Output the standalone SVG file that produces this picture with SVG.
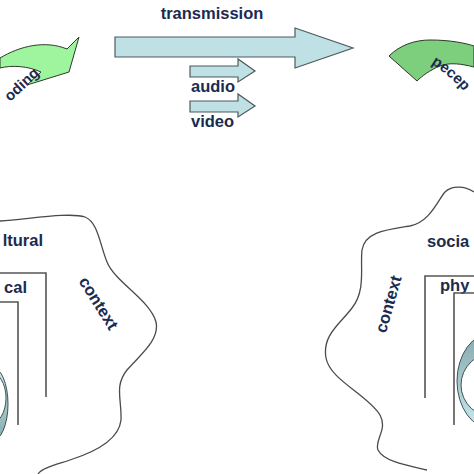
<svg xmlns="http://www.w3.org/2000/svg" width="474" height="474" viewBox="0 0 474 474">
<defs>
<style>
.lbl{font-family:"Liberation Sans",Arial,sans-serif;font-weight:bold;font-size:16.5px;fill:#1b2b4f}
.sm{font-size:15px}
.blue{fill:#bfe0e4;stroke:#4d5a5c;stroke-width:1.2}
.line{fill:none;stroke:#4a4a4a;stroke-width:1.3}
.frame{fill:none;stroke:#555;stroke-width:1.6}
.ring{stroke:#2f3f45;stroke-width:0.9}
</style>
<linearGradient id="gR" x1="0" y1="0" x2="0" y2="1">
<stop offset="0" stop-color="#86a9ae"/><stop offset="1" stop-color="#c8e9ed"/>
</linearGradient>
<linearGradient id="gL" x1="0" y1="0" x2="0" y2="1">
<stop offset="0" stop-color="#c8ecee"/><stop offset="1" stop-color="#86a9ad"/>
</linearGradient>
<path id="pPer" d="M431,64 Q455,78 478,108"/>
</defs>
<rect width="474" height="474" fill="#fff"/>

<g id="connectors">
<path id="transmission-arrow" class="blue" d="M115,37 H295 V28 L353,48 L295,68 V57 H115 Z"/>
<path id="audio-arrow" class="blue" d="M190,66 H238 V59 L255,71 L238,82 V77 H190 Z"/>
<path id="video-arrow" class="blue" d="M190,101 H238 V94 L255,106 L238,117 V112 H190 Z"/>
</g>

<g id="labels-transmission">
<text class="lbl" x="212" y="19" text-anchor="middle">transmission</text>
<text class="lbl" x="191" y="92">audio</text>
<text class="lbl" x="191" y="127">video</text>
</g>

<g id="encoding">
<path d="M0,58 C20,46 45,40 67,49 L79,37 L69,72 L27,85 L41,72 C28,66 12,65 0,68 Z" fill="#9ef59e" stroke="#2c3a2c" stroke-width="1"/>
<text class="lbl sm" transform="translate(25,88) rotate(-43)" x="0" y="0" text-anchor="middle">oding</text>
</g>

<g id="perception">
<path d="M389,56 C400,45 415,40 430,40 C450,40 465,43 474,46 V67 C462,64 450,62 440,66 C430,70 422,76 417,81 Z" fill="#7dce7d" stroke="#2c3a2c" stroke-width="1"/>
<text class="lbl sm"><textPath href="#pPer">pecep</textPath></text>
</g>

<g id="left-context">
<path class="line" d="M0,221 C30,219 70,212 85,217 C98,222 100,245 107,262 C115,282 150,300 156,322 C160,340 140,355 127,370 C114,386 122,400 121,420 C119,440 95,452 70,460 C55,465 42,468 38,474"/>
<text class="lbl" x="43" y="246" text-anchor="end">ltural</text>
<text class="lbl" transform="translate(99,303) rotate(58)" x="0" y="6" text-anchor="middle">context</text>
</g>
<g id="left-physical">
<polyline class="frame" points="0,273 46,273 46,397"/>
<text class="lbl" x="27" y="293" text-anchor="end">cal</text>
</g>
<g id="left-inner">
<polyline class="frame" points="0,302 18,302 18,425"/>
</g>
<g id="left-eye">
<ellipse class="ring" cx="-8" cy="404" rx="16" ry="37" fill="url(#gL)"/>
<ellipse class="ring" cx="-10" cy="398" rx="16" ry="26" fill="#fff"/>
</g>

<g id="right-context">
<path class="line" d="M474,192 C465,186 452,185 445,192 C438,200 430,222 410,226 C385,230 365,232 362,250 C360,268 366,290 352,308 C340,324 322,335 326,358 C330,380 368,395 380,415 C388,430 374,440 378,450 C384,462 410,466 427,470"/>
<text class="lbl" x="427" y="247">socia</text>
<text class="lbl" transform="translate(388,304) rotate(-74)" x="0" y="6" text-anchor="middle">context</text>
</g>
<g id="right-physical">
<polyline class="frame" points="474,276 425,276 425,398"/>
<text class="lbl" x="440" y="291">phy</text>
</g>
<g id="right-inner">
<polyline class="frame" points="474,293 454,293 454,425"/>
</g>
<g id="right-eye">
<ellipse class="ring" cx="492" cy="381" rx="35" ry="48" fill="url(#gR)"/>
<ellipse class="ring" cx="496" cy="385" rx="35" ry="33" fill="#fff"/>
</g>
</svg>
